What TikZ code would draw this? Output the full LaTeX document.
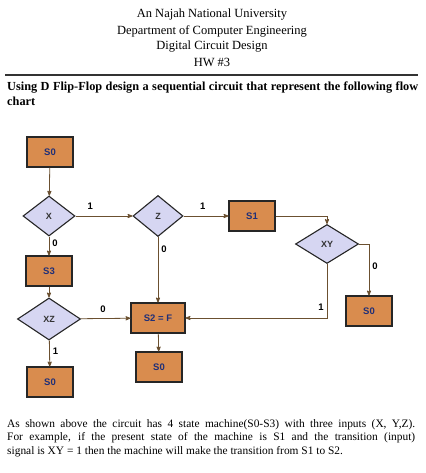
\documentclass[tikz,border=0pt]{standalone}
\usepackage{fontspec}
\setmainfont{Liberation Serif}
\newfontfamily\boxfont{Liberation Sans}
\usepackage{xcolor}
\usetikzlibrary{shapes.geometric,positioning,arrows}
\definecolor{boxfill}{HTML}{D98C4E}
\definecolor{boxtext}{HTML}{1F2F78}
\definecolor{decfill}{HTML}{D6D6F2}
\definecolor{wire}{HTML}{6B5030}

\begin{document}
\begin{tikzpicture}[x=1pt,y=-1pt,->,>=stealth',
	statebox/.style={rectangle,draw=black!85,line width=1.1pt,fill=boxfill,
		minimum width=46pt,minimum height=30pt,inner sep=0pt,
		font=\boxfont\bfseries\fontsize{9.5}{10}\selectfont,text=boxtext},
	decision/.style={diamond,draw=black!85,line width=1.1pt,fill=decfill,
		inner sep=0pt,font=\boxfont\bfseries\fontsize{9}{10}\selectfont,text=black!80},
	bit/.style={font=\boxfont\bfseries\fontsize{9.5}{10}\selectfont,inner sep=2pt},
	flow/.style={draw=wire,line width=0.8pt,shorten >=0pt}]
	\useasboundingbox[fill=white] (0,0) rectangle (425,473);

	% heading
	\begin{scope}[font=\fontsize{12.5}{14}\selectfont]
	\node (t1) at (212,15) {An Najah National University};
	\node (t2) at (212,31) {Department of Computer Engineering};
	\node (t3) at (212,47) {Digital Circuit Design};
	\node (t4) at (212,62) {HW \#3};
	\end{scope}
	\draw[-,line width=1.8pt,black!80] (5,75) -- (418,75);
	\node[anchor=west,inner sep=0pt,font=\bfseries\fontsize{12.3}{13}\selectfont] (q1) at (7,88)
		{\makebox[411pt][s]{Using D Flip-Flop design a sequential circuit that represent the following flow}};
	\node[anchor=west,inner sep=0pt,font=\bfseries\fontsize{12.3}{13}\selectfont] (q2) at (7,101) {chart};

	% states and tests
	\node[statebox] (s0) at (50,152) {S0};
	\node[decision,minimum width=52pt,minimum height=40pt] (x) at (49,216) {X};
	\node[decision,minimum width=50pt,minimum height=41pt] (z) at (158,216) {Z};
	\node[statebox] (s1) at (252,216) {S1};
	\node[decision,minimum width=63pt,minimum height=39pt] (xy) at (327,244) {XY};
	\node[statebox] (s0r) at (369,311) {S0};
	\node[statebox] (s3) at (49,271) {S3};
	\node[decision,minimum width=63pt,minimum height=42pt] (xz) at (49,319) {XZ};
	\node[statebox,minimum width=54pt] (s2) at (158,318) {S2 = F};
	\node[statebox] (s0m) at (159,367) {S0};
	\node[statebox] (s0l) at (50,382) {S0};

	% transitions
	\draw[flow] (s0) -- (x);
	\draw[flow] (x) -- node[bit,pos=0.26,above=4pt]{1} (z);
	\draw[flow] (x) -- node[bit,pos=0.35,right=1pt]{0} (s3);
	\draw[flow] (z) -- node[bit,pos=0.43,above=4pt]{1} (s1);
	\draw[flow] (z) -- node[bit,pos=0.18,right=1pt]{0} (s2);
	\draw[flow] (s1) -| (xy);
	\draw[flow] (xy.east) -| node[bit,pos=0.72,right=1pt]{0} (s0r);
	\draw[flow] (xy.south) |- node[bit,pos=0.4,left=1pt]{1} (s2.east);
	\draw[flow] (s3) -- (xz);
	\draw[flow] (xz) -- node[bit,pos=0.45,above=4pt]{0} (s2);
	\draw[flow] (xz) -- node[bit,pos=0.4,right=1pt]{1} (s0l);
	\draw[flow] (s2) -- (s0m);

	% closing note
	\begin{scope}[font=\fontsize{11.4}{12}\selectfont]
	\node[anchor=west,inner sep=0pt] (n1) at (7,425)
		{\makebox[408pt][s]{As shown above the circuit has 4 state machine(S0-S3) with three inputs (X, Y,Z).}};
	\node[anchor=west,inner sep=0pt] (n2) at (7,438)
		{\makebox[408pt][s]{For example, if the present state of the machine is S1 and the transition (input)}};
	\node[anchor=west,inner sep=0pt] (n3) at (7,452)
		{signal is XY = 1 then the machine will make the transition from S1 to S2.};
	\end{scope}
\end{tikzpicture}
\end{document}
